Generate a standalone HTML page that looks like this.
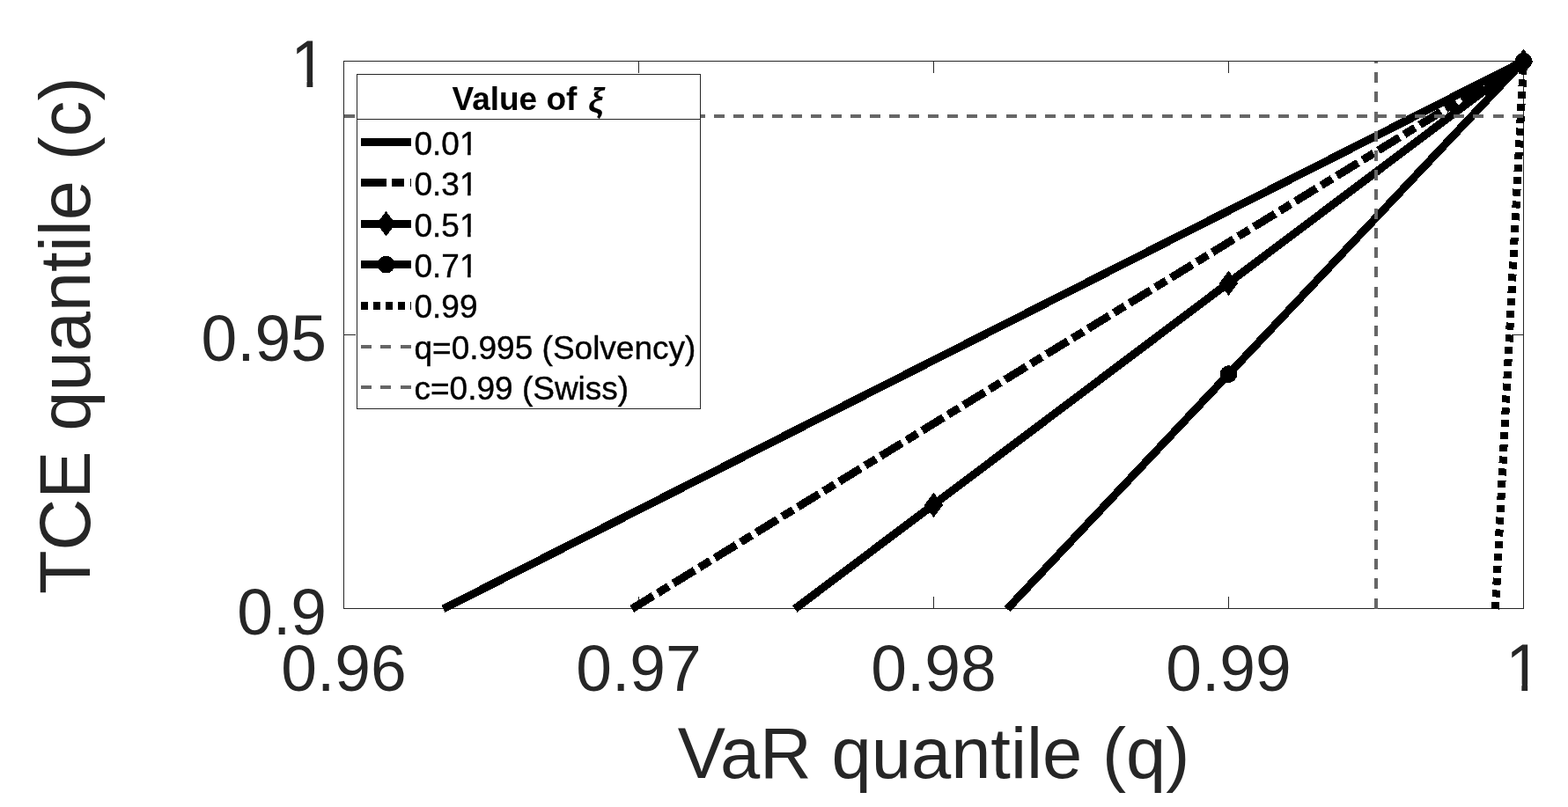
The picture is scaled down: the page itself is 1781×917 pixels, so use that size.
<!DOCTYPE html>
<html lang="en"><head><meta charset="utf-8"><title>TCE quantile vs VaR quantile</title>
<style>html,body{margin:0;padding:0;background:#fff;}body{width:1781px;height:917px;overflow:hidden;}svg{display:block;}text{font-family:"Liberation Sans",sans-serif;fill:#262626;}.tick{font-size:73.2px;}.lab{font-size:81.33px;}.leg{font-size:37px;fill:#000;stroke:#000;stroke-width:0.4px;}.ttl{font-size:37px;font-weight:bold;fill:#000;}</style></head><body>
<svg width="1781" height="917" viewBox="0 0 1781 917">
<rect width="1781" height="917" fill="#fff"/>
<g shape-rendering="crispEdges" fill="#262626">
<rect x="390" y="69" width="1341" height="1"/>
<rect x="390" y="691" width="1341" height="1"/>
<rect x="390" y="69" width="1" height="623"/>
<rect x="1730" y="69" width="1" height="623"/>
<rect x="725" y="678" width="1" height="13"/>
<rect x="725" y="70" width="1" height="13"/>
<rect x="1060" y="678" width="1" height="13"/>
<rect x="1060" y="70" width="1" height="13"/>
<rect x="1395" y="678" width="1" height="13"/>
<rect x="1395" y="70" width="1" height="13"/>
<rect x="391" y="380" width="13" height="1"/>
<rect x="1717" y="380" width="13" height="1"/>
</g>
<g shape-rendering="crispEdges" stroke="#000" stroke-width="9.1" fill="none">
<line x1="503.58" y1="691.86" x2="1730.50" y2="69.50"/>
<line x1="717.77" y1="691.92" x2="1730.50" y2="69.50" stroke-dasharray="28.3 6.24 14.5 6.24"/>
<line x1="902.71" y1="691.98" x2="1730.50" y2="69.50"/>
<line x1="1144.00" y1="692.08" x2="1730.50" y2="69.50"/>
<line x1="1698.48" y1="692.30" x2="1730.50" y2="69.50" stroke-dasharray="8 5.83"/>
</g>
<g shape-rendering="crispEdges" fill="#000">
<polygon points="1060.50,559.62 1071.20,573.82 1060.50,588.02 1049.80,573.82"/>
<polygon points="1395.50,307.71 1406.20,321.91 1395.50,336.11 1384.80,321.91"/>
<polygon points="1730.50,55.80 1741.20,70.00 1730.50,84.20 1719.80,70.00"/>
<circle cx="1395.50" cy="425.11" r="9.8"/>
<circle cx="1730.50" cy="69.50" r="9.8"/>
</g>
<g shape-rendering="crispEdges" stroke="#666666" stroke-width="4" fill="none" stroke-dasharray="12 10.12">
<line x1="1563.00" y1="691.50" x2="1563.00" y2="69.50"/>
<line x1="390.50" y1="131.70" x2="1730.50" y2="131.70"/>
</g>
<text class="tick" x="390.5" y="784.5" text-anchor="middle">0.96</text>
<text class="tick" x="725.5" y="784.5" text-anchor="middle">0.97</text>
<text class="tick" x="1060.5" y="784.5" text-anchor="middle">0.98</text>
<text class="tick" x="1395.5" y="784.5" text-anchor="middle">0.99</text>
<text class="tick" transform="translate(1730.5,784.5) scale(1,1.035)" text-anchor="middle">1</text>
<text class="tick" x="371" y="721.3" text-anchor="end">0.9</text>
<text class="tick" x="371" y="410.3" text-anchor="end">0.95</text>
<text class="tick" transform="translate(371,99.3) scale(1,1.035)" text-anchor="end">1</text>
<rect x="1713.80" y="777.23" width="14.55" height="8.77" fill="#fff"/>
<rect x="1735.17" y="777.23" width="14.64" height="8.77" fill="#fff"/>
<rect x="333.95" y="92.03" width="14.55" height="8.77" fill="#fff"/>
<rect x="355.31" y="92.03" width="14.64" height="8.77" fill="#fff"/>
<text class="lab" x="1060.5" y="883.5" text-anchor="middle">VaR quantile (q)</text>
<text class="lab" transform="translate(102.2,381.3) rotate(-90)" text-anchor="middle">TCE quantile (c)</text>
<g shape-rendering="crispEdges">
<rect x="405.5" y="84.5" width="390" height="380" fill="#fff" stroke="#262626" stroke-width="1"/>
<rect x="405" y="135" width="391" height="1" fill="#262626"/>
</g>
<text class="ttl" x="513.5" y="125.3">Value of <tspan font-style="italic" font-size="39px" dx="2.5" dy="1.5">ξ</tspan></text>
<g shape-rendering="crispEdges" stroke="#000" stroke-width="9.1" fill="none">
<line x1="410.3" y1="161.5" x2="466.8" y2="161.5"/>
<line x1="410.3" y1="207.9" x2="466.8" y2="207.9" stroke-dasharray="28.3 6.2 14.5 6.2"/>
<line x1="410.3" y1="254.3" x2="466.8" y2="254.3"/>
<line x1="410.3" y1="300.7" x2="466.8" y2="300.7"/>
<line x1="410.3" y1="347.1" x2="466.8" y2="347.1" stroke-dasharray="8 5.83"/>
</g>
<g shape-rendering="crispEdges" fill="#000">
<polygon points="438.55,240.10 449.25,254.30 438.55,268.50 427.85,254.30"/>
<circle cx="438.55" cy="300.70" r="9.8"/>
</g>
<g shape-rendering="crispEdges" stroke="#666666" stroke-width="4" fill="none" stroke-dasharray="12 10.12">
<line x1="410.3" y1="393.5" x2="466.8" y2="393.5"/>
<line x1="410.3" y1="439.9" x2="466.8" y2="439.9"/>
</g>
<text class="leg" x="470.5" y="175.8">0.01</text>
<rect x="523.79" y="171.24" width="7.26" height="6.06" fill="#fff"/>
<rect x="534.66" y="171.24" width="7.40" height="6.06" fill="#fff"/>
<text class="leg" x="470.5" y="222.2">0.31</text>
<rect x="523.79" y="217.64" width="7.26" height="6.06" fill="#fff"/>
<rect x="534.66" y="217.64" width="7.40" height="6.06" fill="#fff"/>
<text class="leg" x="470.5" y="268.6">0.51</text>
<rect x="523.79" y="264.04" width="7.26" height="6.06" fill="#fff"/>
<rect x="534.66" y="264.04" width="7.40" height="6.06" fill="#fff"/>
<text class="leg" x="470.5" y="315.0">0.71</text>
<rect x="523.79" y="310.44" width="7.26" height="6.06" fill="#fff"/>
<rect x="534.66" y="310.44" width="7.40" height="6.06" fill="#fff"/>
<text class="leg" x="470.5" y="361.4">0.99</text>
<text class="leg" x="470.5" y="407.8">q=0.995 (Solvency)</text>
<text class="leg" x="470.5" y="454.2">c=0.99 (Swiss)</text>
</svg></body></html>
